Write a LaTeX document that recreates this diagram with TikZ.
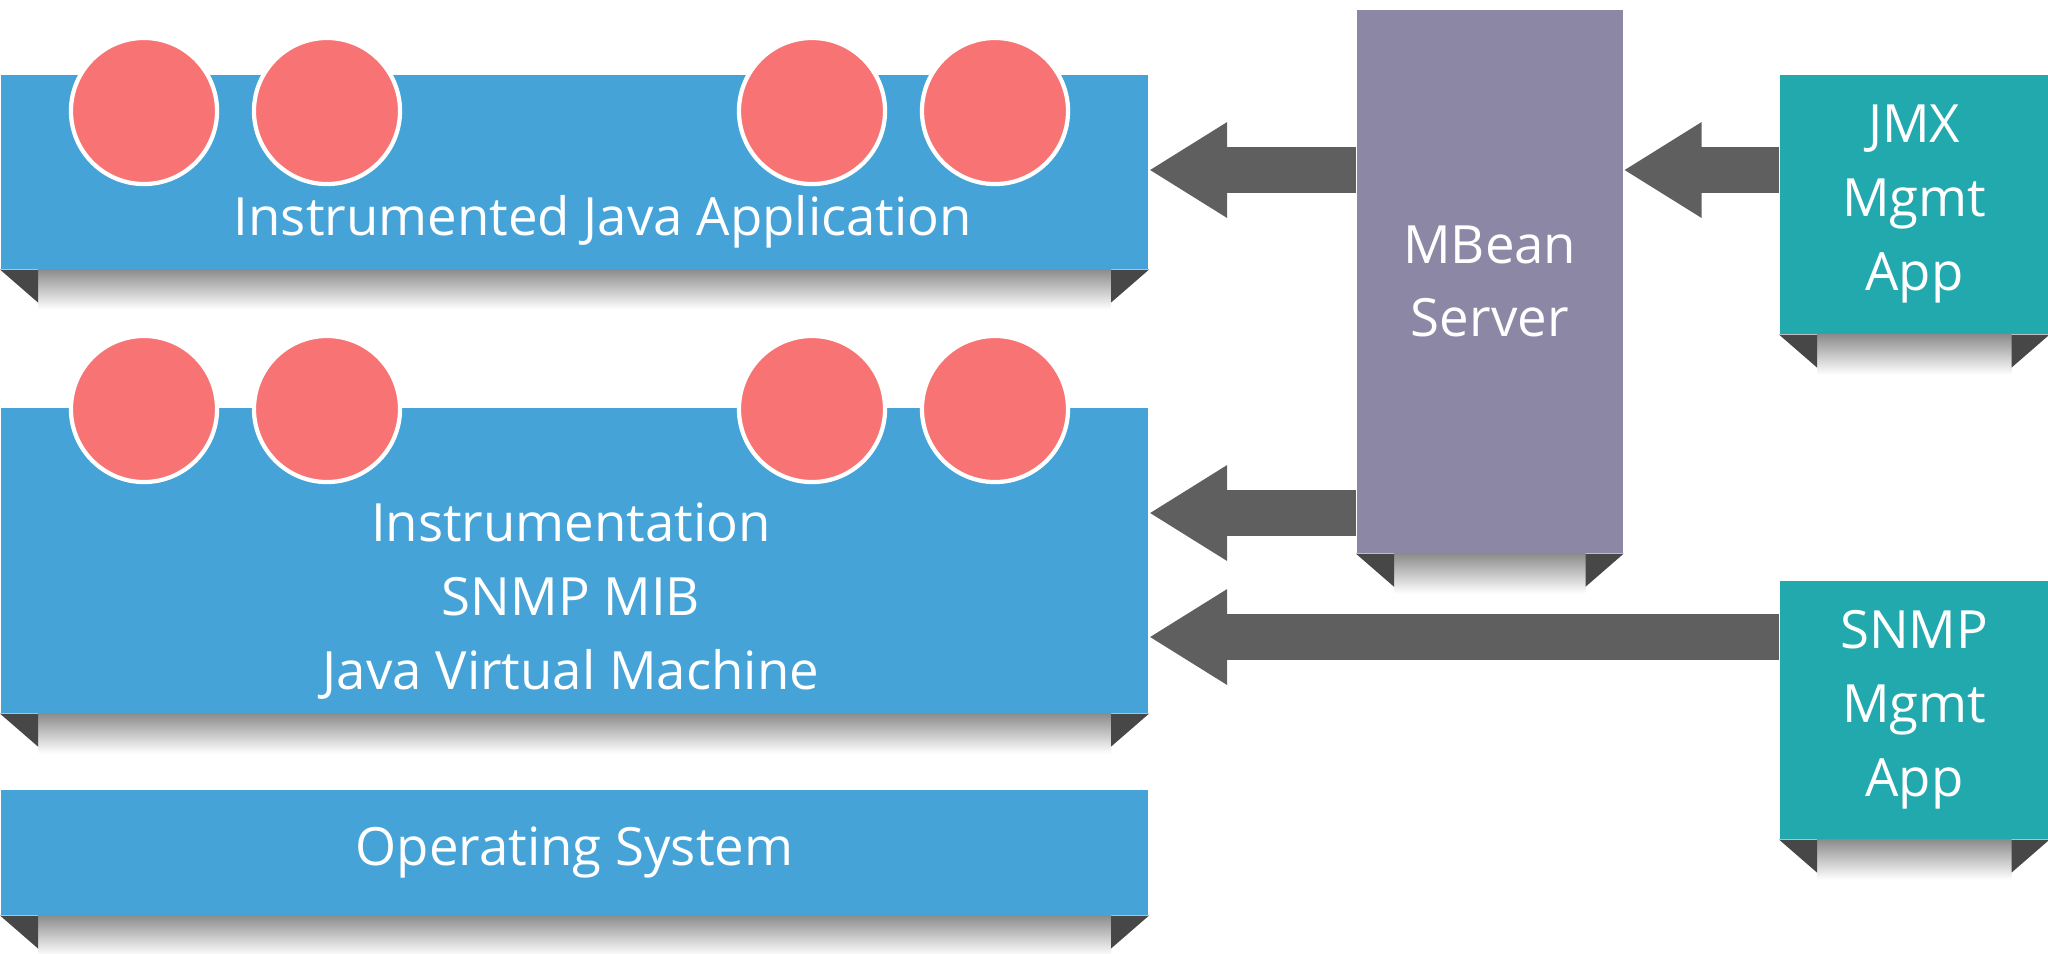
\documentclass[tikz,border=0pt]{standalone}
\usepackage{fontspec}
\setmainfont{Open Sans}
\usetikzlibrary{positioning,arrows.meta,calc}
\definecolor{layer}{HTML}{46A3D8}
\definecolor{bean}{HTML}{8B87A5}
\definecolor{mgmt}{HTML}{22A9AE}
\definecolor{dot}{HTML}{F87474}
\definecolor{pipe}{HTML}{5F5F5F}
\definecolor{tab}{HTML}{474747}
\begin{document}
\begin{tikzpicture}[x=0.01cm,y=-0.01cm]

  \tikzset{
    box/.style={anchor=north west,inner sep=0pt,text=white,font=\fontsize{15}{21}\selectfont,align=center},
    dot/.style={circle,fill=dot,draw=white,line width=1.2pt,minimum size=1.46cm,inner sep=0pt},
    pipe/.style={draw=pipe,line width=0.46cm,-{Triangle[width=0.9cm,length=0.78cm]}},
  }
  % folded corners and soft shadow under a box
  \newcommand{\ribbon}[1]{%
    \shade[top color=black!45,bottom color=white] ($(#1.south west)+(38,0)$) rectangle ($(#1.south east)+(-38,40)$);
    \fill[tab] (#1.south west) -- ++(38,0) -- ++(0,33) -- cycle;
    \fill[tab] (#1.south east) -- ++(-38,0) -- ++(0,33) -- cycle;
  }

  \useasboundingbox (0,0) rectangle (2048,953);

  \node[box,fill=layer,minimum width=11.47cm,minimum height=1.94cm] (app) at (0,74) {};
  \node[text=white,font=\fontsize{15}{21}\selectfont] at (603,222) {Instrumented Java Application};
  \node[box,fill=layer,minimum width=11.47cm,minimum height=3.05cm] (jvm) at (0,407) {};
  \node[text=white,font=\fontsize{15}{21}\selectfont,align=center] at (571,601) {Instrumentation\\SNMP MIB\\Java Virtual Machine};
  \node[box,fill=layer,minimum width=11.47cm,minimum height=1.25cm] (os) at (0,789) {Operating System};
  \node[box,fill=bean,minimum width=2.66cm,minimum height=5.43cm] (mbean) at (1356,9) {MBean\\Server};
  \node[box,fill=mgmt,minimum width=2.69cm,minimum height=2.59cm] (jmx) at (1779,74) {JMX\\Mgmt\\App};
  \node[box,fill=mgmt,minimum width=2.69cm,minimum height=2.58cm] (snmp) at (1779,580) {SNMP\\Mgmt\\App};

  \ribbon{app}
  \ribbon{jvm}
  \ribbon{os}
  \ribbon{mbean}
  \ribbon{jmx}
  \ribbon{snmp}

  \foreach \x in {144,327,812,995} {
    \node[dot] at (\x,111) {};
    \node[dot] at (\x,409) {};
  }

  \draw[pipe] (mbean.west |- 0,170) -- (app.east |- 0,170);
  \draw[pipe] (jmx.west |- 0,170) -- (mbean.east |- 0,170);
  \draw[pipe] (mbean.west |- 0,513) -- (jvm.east |- 0,513);
  \draw[pipe] (snmp.west |- 0,637) -- (jvm.east |- 0,637);
\end{tikzpicture}
\end{document}
